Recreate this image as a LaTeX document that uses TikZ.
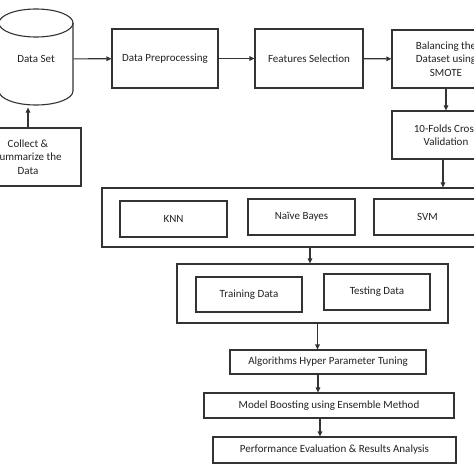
\documentclass[tikz,border=0pt]{standalone}
\usepackage{fontspec}
\setmainfont{Carlito}
\usetikzlibrary{arrows.meta}
\definecolor{linegray}{HTML}{333333}
\definecolor{textgray}{HTML}{222222}

\begin{document}
\begin{tikzpicture}[x=1pt, y=1pt, line width=1.1pt,
    box/.style={draw=linegray, text=textgray, align=center, inner sep=1pt,
      font=\fontsize{11}{13.5}\selectfont},
    arr/.style={draw=linegray, -{Triangle[length=5pt,width=4.5pt]}}]
      \clip (0,0) rectangle (474,-474);
      \fill[white] (0,0) rectangle (474,-474);
      % data set cylinder
      \draw[linegray] (36,-23) ellipse[x radius=37, y radius=14];
      \draw[linegray] (-1,-23) -- (-1,-91) arc[start angle=180, end angle=360, x radius=37, y radius=14] -- (73,-23);
      \node [box, draw=none, minimum width=74, minimum height=96] (dataset) at (36,-59) {Data Set};
      \node [box, minimum width=106, minimum height=58] (collect) at (28,-157) {Collect \&\\Summarize the\\Data};
      % top row
      \node [box, minimum width=106, minimum height=59] (prep) at (165,-58.5) {Data Preprocessing};
      \node [box, minimum width=108, minimum height=59] (feat) at (309,-58.5) {Features Selection};
      \node [box, minimum width=108, minimum height=58] (smote) at (446,-59) {Balancing the\\Dataset using\\SMOTE};
      \node [box, minimum width=108, minimum height=48] (folds) at (446,-135) {10-Folds Cross\\Validation};
      % classifiers
      \node [box, minimum width=390, minimum height=59] (algos) at (297,-217.5) {};
      \node [box, minimum width=107, minimum height=36] (knn) at (173.5,-219) {KNN};
      \node [box, minimum width=107, minimum height=36] (bayes) at (301.5,-217) {Naïve Bayes};
      \node [box, minimum width=107, minimum height=36] (svm) at (427.5,-217) {SVM};
      % data split
      \node [box, minimum width=271, minimum height=59] (split) at (312.5,-293.5) {};
      \node [box, minimum width=106, minimum height=35] (train) at (249,-294.5) {Training Data};
      \node [box, minimum width=106, minimum height=36] (test) at (377,-292) {Testing Data};
      % bottom chain
      \node [box, minimum width=196, minimum height=24] (tune) at (328,-362) {Algorithms Hyper Parameter Tuning};
      \node [box, minimum width=250, minimum height=25] (boost) at (329,-405.5) {Model Boosting using Ensemble Method};
      \node [box, minimum width=243, minimum height=26] (perf) at (334.5,-450) {Performance Evaluation \& Results Analysis};
      % arrows
      \draw[arr] (collect.north) -- (collect.north |- dataset.south);
      \draw[arr] (dataset) -- (prep);
      \draw[arr] (prep) -- (feat);
      \draw[arr] (feat) -- (smote);
      \draw[arr] (smote) -- (folds);
      \draw[arr] ([xshift=-3]folds.south) -- ([xshift=-3]folds.south |- algos.north);
      \draw[arr] ([xshift=13]algos.south) -- ([xshift=13]algos.south |- split.north);
      \draw[arr] ([xshift=5]split.south) -- ([xshift=5]split.south |- tune.north);
      \draw[arr] ([xshift=-10]tune.south) -- ([xshift=-10]tune.south |- boost.north);
      \draw[arr] ([xshift=-9]boost.south) -- ([xshift=-9]boost.south |- perf.north);
\end{tikzpicture}
\end{document}
